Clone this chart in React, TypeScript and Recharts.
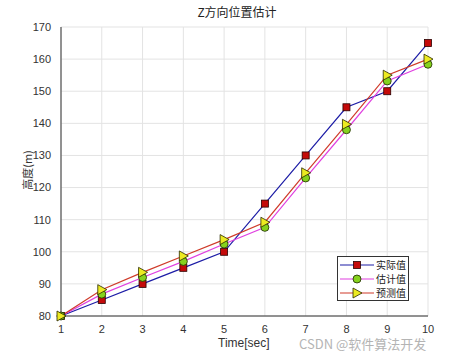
import React from "react";
import { LineChart, Line, XAxis, YAxis, CartesianGrid } from "recharts";

const times = [1, 2, 3, 4, 5, 6, 7, 8, 9, 10];
const actual = [80, 85, 90, 95, 100, 115, 130, 145, 150, 165];
const estimated = [80, 86.8, 92, 97, 102.4, 107.6, 123, 138, 153.2, 158.4];
const predicted = [80, 88.2, 93.6, 98.7, 103.8, 109.2, 124.6, 139.7, 155, 160];
const xTicks = [1, 2, 3, 4, 5, 6, 7, 8, 9, 10];
const yTicks = [80, 90, 100, 110, 120, 130, 140, 150, 160, 170];

const data = times.map((t, i) => ({
  t,
  actual: actual[i],
  estimated: estimated[i],
  predicted: predicted[i],
}));

const sans = "Arial, 'Liberation Sans', 'Noto Sans CJK SC', sans-serif";
const cjk = "'Noto Sans CJK SC', sans-serif";

const BLUE = "#1c1ca6";
const MAGENTA = "#e040e0";
const RED = "#cf3b2a";

const Square = (props: any) => {
  const { cx, cy } = props;
  return <rect x={cx - 3.5} y={cy - 3.5} width={7} height={7} fill="#c40a0a" stroke="#2a0000" strokeWidth={0.8} />;
};
const Circle = (props: any) => {
  const { cx, cy } = props;
  return <circle cx={cx} cy={cy} r={4} fill="#86d21e" stroke="#1d2a00" strokeWidth={0.8} />;
};
const Tri = (props: any) => {
  const { cx, cy } = props;
  return (
    <polygon
      points={`${cx - 4},${cy - 5} ${cx + 5},${cy} ${cx - 4},${cy + 5}`}
      fill="#ecea22"
      stroke="#2a2a00"
      strokeWidth={0.8}
    />
  );
};

const legendItems = [
  { label: "实际值", color: BLUE, Marker: Square },
  { label: "估计值", color: MAGENTA, Marker: Circle },
  { label: "预测值", color: RED, Marker: Tri },
];

export default function App() {
  return (
    <div style={{ position: "absolute", left: 0, top: 0, width: 474, height: 355, background: "#fff" }}>
      <LineChart
        width={474}
        height={355}
        data={data}
        margin={{ top: 27, right: 46, left: 20, bottom: 19 }}
      >
        <CartesianGrid stroke="#e3e3e3" />
        <XAxis
          dataKey="t"
          type="number"
          domain={[1, 10]}
          ticks={xTicks}
          tickLine={false}
          axisLine={{ stroke: "#333" }}
          tick={{ fill: "#333", fontSize: 11, fontFamily: sans }}
          height={20}
          tickMargin={3}
        />
        <XAxis xAxisId="top" orientation="top" dataKey="t" type="number" domain={[1, 10]} tick={false} tickLine={false} axisLine={{ stroke: "#333" }} height={0} />
        <YAxis
          type="number"
          domain={[80, 170]}
          ticks={yTicks}
          tickLine={false}
          axisLine={{ stroke: "#333" }}
          tick={{ fill: "#333", fontSize: 11, fontFamily: sans }}
          width={41}
          tickMargin={4}
        />
        <YAxis yAxisId="right" orientation="right" type="number" domain={[80, 170]} tick={false} tickLine={false} axisLine={{ stroke: "#333" }} width={0} />
        <Line dataKey="actual" stroke={BLUE} strokeWidth={1.2} dot={<Square />} isAnimationActive={false} />
        <Line dataKey="estimated" stroke={MAGENTA} strokeWidth={1.2} dot={<Circle />} isAnimationActive={false} />
        <Line dataKey="predicted" stroke={RED} strokeWidth={1.2} dot={<Tri />} isAnimationActive={false} />
      </LineChart>

      <div style={{ position: "absolute", left: 0, width: 474, top: 3, textAlign: "center", fontFamily: cjk, fontSize: 12, color: "#222" }}>
        Z方向位置估计
      </div>
      <div
        style={{
          position: "absolute",
          left: 27,
          top: 170,
          transform: "translate(-50%, -50%) rotate(-90deg)",
          fontFamily: cjk,
          fontSize: 11,
          color: "#333",
          whiteSpace: "nowrap",
        }}
      >
        高度(m)
      </div>
      <div style={{ position: "absolute", left: 218, top: 336, fontFamily: sans, fontSize: 12, color: "#333" }}>Time[sec]</div>
      <div style={{ position: "absolute", left: 299, top: 336, fontFamily: cjk, fontSize: 13, lineHeight: "16px", color: "#b4b4b4", whiteSpace: "nowrap" }}>
        CSDN @软件算法开发
      </div>

      <div
        style={{
          position: "absolute",
          left: 337,
          top: 256,
          width: 72,
          height: 45,
          border: "1px solid #333",
          background: "#fff",
          boxSizing: "border-box",
        }}
      >
        {legendItems.map((it, i) => (
          <div
            key={it.label}
            style={{ position: "absolute", left: 0, top: 1 + i * 14, height: 14, display: "flex", alignItems: "center", whiteSpace: "nowrap" }}
          >
            <svg width={38} height={14} style={{ flex: "none" }}>
              <line x1={2} y1={7} x2={36} y2={7} stroke={it.color} strokeWidth={1.2} />
              <it.Marker cx={19} cy={7} />
            </svg>
            <span style={{ fontFamily: cjk, fontSize: 10, color: "#222", lineHeight: "14px" }}>{it.label}</span>
          </div>
        ))}
      </div>
    </div>
  );
}
